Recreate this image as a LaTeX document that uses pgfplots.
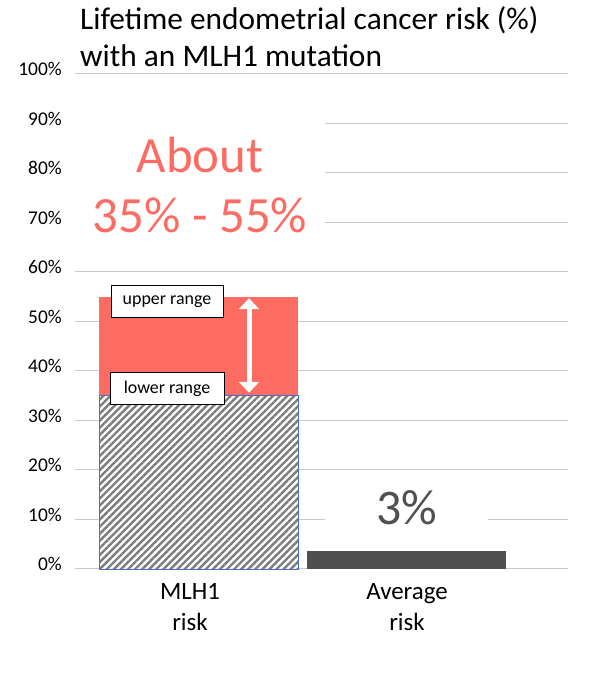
\documentclass[border=0pt]{standalone}
\usepackage{pgfplots}
\pgfplotsset{compat=1.18}
\usepackage{fontspec}
\setmainfont{Carlito}
\usetikzlibrary{patterns.meta,arrows.meta}
\definecolor{barred}{RGB}{252,108,99}
\definecolor{bardark}{RGB}{80,80,80}
\definecolor{gridgray}{RGB}{200,200,200}
\definecolor{edgeblue}{RGB}{68,114,196}
\definecolor{hatchgray}{RGB}{125,125,125}
\begin{document}
\begin{tikzpicture}
\path[use as bounding box] (0,0) rectangle (593bp,676bp);
\node[anchor=base west, inner sep=0pt, font=\fontsize{31.5}{36}\selectfont] at (80bp,646bp) {Lifetime endometrial cancer risk (\%)};
\node[anchor=base west, inner sep=0pt, font=\fontsize{31.5}{36}\selectfont] at (80bp,609bp) {with an MLH1 mutation};
\begin{axis}[
  at={(75bp,107bp)}, anchor=south west,
  scale only axis, width=493bp, height=495bp,
  xmin=75, xmax=568, ymin=0, ymax=100,
  axis line style={draw=none},
  ytick={0,10,...,100},
  ymajorgrids, grid style={gridgray, line width=1bp},
  major tick length=0pt,
  xtick={190,407},
  xticklabels={{MLH1\\risk},{Average\\risk}},
  xticklabel style={align=center, anchor=north, inner sep=0pt, yshift=-14bp, font=\fontsize{25}{31}\selectfont},
  yticklabel={\pgfmathprintnumber[assume math mode=true]{\tick}\%},
  yticklabel style={anchor=east, inner sep=0pt, xshift=-13bp, yshift=5bp, font=\fontsize{19.5}{22}\selectfont},
  ybar, bar width=199,
  clip=false,
]
\addplot[fill=barred, draw=none, bar shift=0pt] coordinates {(198.5,55)};
\addplot[fill=white, draw=edgeblue, line width=0.8bp, bar shift=0pt,
  postaction={pattern={Lines[angle=45,distance=5bp,line width=2.4bp]}, pattern color=hatchgray}] coordinates {(198.5,35)};
\addplot[fill=bardark, draw=none, bar shift=0pt] coordinates {(406.5,3.6)};

\fill[white] (axis cs:74,61) rectangle (axis cs:325,98);
\node[anchor=base, text=barred, inner sep=0pt, font=\fontsize{51}{60}\selectfont] at (axis cs:200,80.2) {About};
\node[anchor=base, text=barred, inner sep=0pt, font=\fontsize{51}{60}\selectfont] at (axis cs:200,67.9) {35\% - 55\%};

\fill[white] (axis cs:325,5.5) rectangle (axis cs:488,17);
\node[anchor=base, text=bardark, inner sep=0pt, font=\fontsize{50}{60}\selectfont] at (axis cs:407,8.9) {3\%};

\node[draw=black, fill=white, line width=0.8bp, minimum width=112bp, minimum height=32bp, inner sep=0pt, font=\fontsize{18}{20}\selectfont] at (axis cs:167,54.1) {upper range};
\node[draw=black, fill=white, line width=0.8bp, minimum width=114bp, minimum height=32bp, inner sep=0pt, font=\fontsize{18}{20}\selectfont] at (axis cs:167,36.4) {lower range};

\draw[white, line width=5bp, {Triangle[width=20bp,length=11bp]}-{Triangle[width=20bp,length=11bp]}] (axis cs:249,54.7) -- (axis cs:249,35.6);
\end{axis}
\end{tikzpicture}
\end{document}
